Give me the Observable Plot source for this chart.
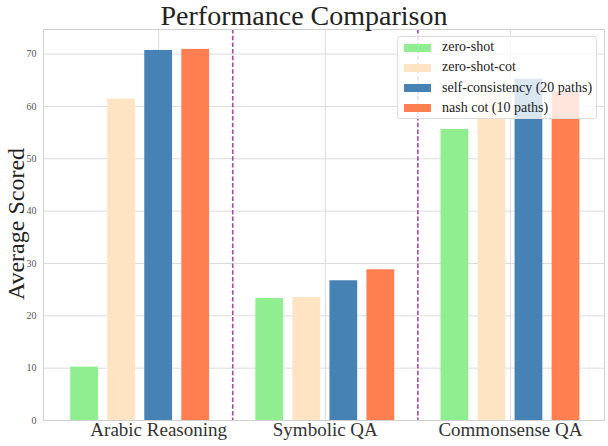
<!DOCTYPE html>
<html>
<head>
<meta charset="utf-8">
<script src="https://cdn.jsdelivr.net/npm/d3@7"></script>
<script src="https://cdn.jsdelivr.net/npm/@observablehq/plot@0.6"></script>
<style>
  html, body { margin: 0; padding: 0; background: #fff; }
  #wrap { position: relative; width: 608px; height: 446px; font-family: "Liberation Serif", "Times New Roman", serif; }
  #title { position: absolute; left: 0; width: 608px; top: 1.5px; text-align: center; font-size: 28px; color: #222; line-height: 28px; }
  #ylabel { position: absolute; left: 16px; top: 224px; transform: translate(-50%, -50%) rotate(-90deg); font-size: 24px; color: #222; white-space: nowrap; line-height: 24px; }
  #legend { position: absolute; left: 397px; top: 36px; width: 200px; height: 83px; background: rgba(255,255,255,0.8); border: 1px solid #dedede; border-radius: 3px; box-sizing: border-box; }
  .sw { position: absolute; left: 6px; width: 27px; height: 8px; }
  .lab { position: absolute; left: 44px; font-size: 14px; color: #222; white-space: nowrap; line-height: 16px; }
</style>
</head>
<body>
<div id="wrap">
  <div id="chart"></div>
  <div id="title">Performance Comparison</div>
  <div id="ylabel">Average Scored</div>
  <div id="legend"></div>
</div>
<script>
const categories = ["Arabic Reasoning", "Symbolic QA", "Commonsense QA"];
const methods = ["zero-shot", "zero-shot-cot", "self-consistency (20 paths)", "nash cot (10 paths)"];
const zeroShot = [10.2, 23.3, 55.6];
const zeroShotCot = [61.4, 23.5, 62.5];
const selfConsistency = [70.7, 26.7, 65.2];
const nashCot = [70.9, 28.8, 62.7];
const colors = ["#90EE90", "#FFE4C4", "#4682B4", "#FF7F50"];
const yTicks = [0, 10, 20, 30, 40, 50, 60, 70];

const seriesValues = [zeroShot, zeroShotCot, selfConsistency, nashCot];
const barW = 0.15, pitch = 0.2;
const rows = [];
methods.forEach((m, j) => {
  categories.forEach((c, i) => {
    const center = i + (j - 1.5) * pitch;
    rows.push({method: m, category: c, x1: center - barW / 2, x2: center + barW / 2, value: seriesValues[j][i]});
  });
});
const tickPos = [0.1, 1, 2];
const labels = categories.map((c, i) => ({label: c, x: tickPos[i]}));
const separators = [0.5, 1.5];

const chart = Plot.plot({
  width: 608,
  height: 446,
  marginTop: 29,
  marginBottom: 26,
  marginLeft: 43,
  marginRight: 4,
  style: {fontFamily: "'Liberation Serif', 'Times New Roman', serif", background: "#fff"},
  x: {type: "linear", domain: [-0.522, 2.508], axis: null},
  y: {domain: [0, 74.7], axis: null},
  color: {domain: methods, range: colors},
  marks: [
    Plot.gridY(yTicks, {stroke: "#dcdcdc", strokeOpacity: 1, strokeWidth: 1}),
    Plot.gridX(tickPos, {stroke: "#dcdcdc", strokeOpacity: 1, strokeWidth: 1}),
    Plot.rectY(rows, {x1: "x1", x2: "x2", y1: 0, y2: "value", fill: "method"}),
    Plot.ruleX(separators, {stroke: "#a04aa8", strokeWidth: 1.6, strokeDasharray: "4.5,2.2"}),
    Plot.frame({stroke: "#d0d0d0", strokeWidth: 1}),
    Plot.axisY(yTicks, {tickSize: 0, tickPadding: 7, fontSize: 10, fill: "#555", label: null, tickFormat: d => String(d)}),
    Plot.text(labels, {x: "x", y: 0, text: "label", dy: 15, lineAnchor: "bottom", textAnchor: "middle", fontSize: 19, fill: "#333"})
  ]
});
document.getElementById("chart").appendChild(chart);

const legend = document.getElementById("legend");
methods.forEach((m, j) => {
  const cy = 10.5 + j * 20.3;
  const sw = document.createElement("div");
  sw.className = "sw";
  sw.style.top = (cy - 4) + "px";
  sw.style.background = colors[j];
  legend.appendChild(sw);
  const lab = document.createElement("div");
  lab.className = "lab";
  lab.style.top = (cy - 8.5) + "px";
  lab.textContent = m;
  legend.appendChild(lab);
});
</script>
</body>
</html>
